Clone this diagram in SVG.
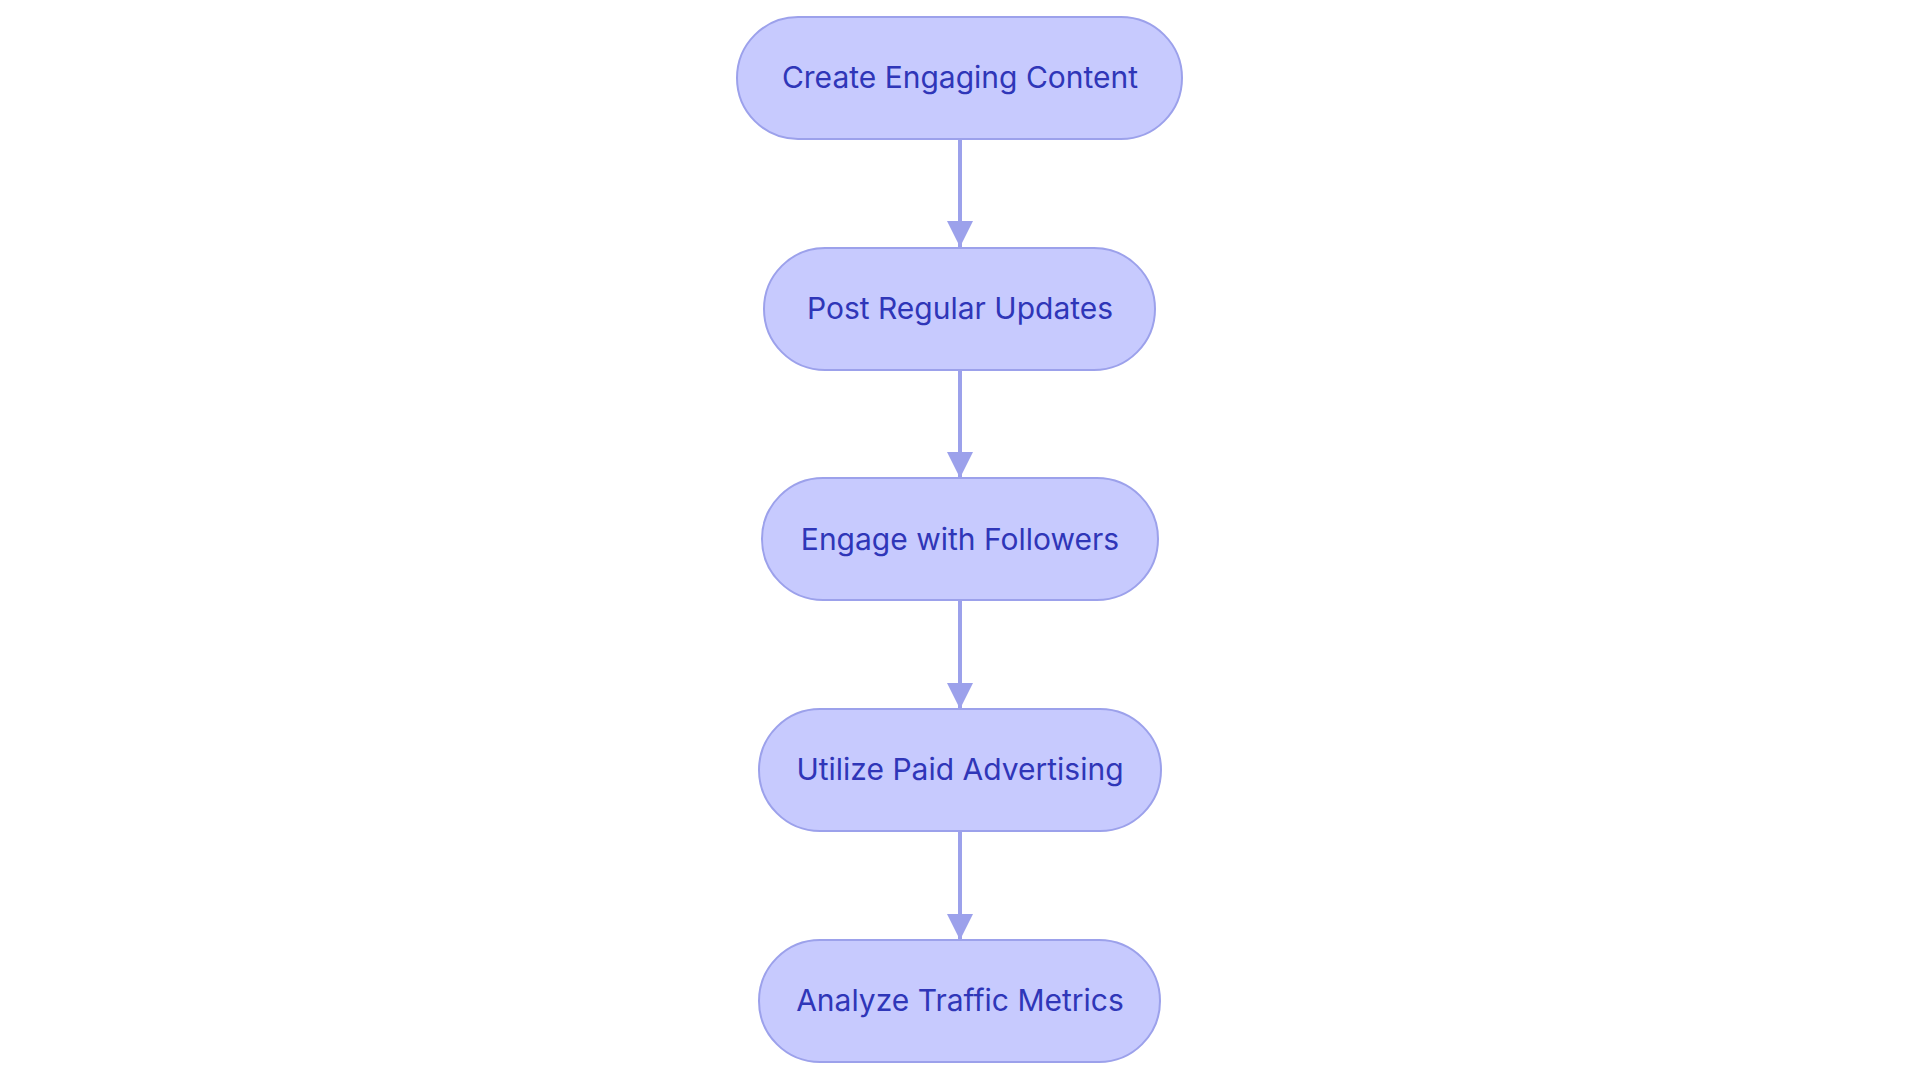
<svg xmlns="http://www.w3.org/2000/svg" width="1920" height="1083" viewBox="0 0 1920 1083">
<style>
.node rect{fill:#C7CAFE;stroke:#9CA1EB;stroke-width:2}
.node text{font-family:Inter,"Noto Sans",sans-serif;font-size:30px;fill:#2F36B8;text-anchor:middle}
.edge{stroke:#9CA1EB;stroke-width:4;fill:none}
</style>
<defs>
<marker id="arrow" markerUnits="userSpaceOnUse" viewBox="0 0 26 26" markerWidth="26" markerHeight="26" refX="26" refY="13" orient="auto">
<path d="M0,0 L26,13 L0,26 Z" fill="#9CA1EB"/>
</marker>
</defs>
<rect width="1920" height="1083" fill="#FFFFFF"/>
<g id="connectors">
<path class="edge" d="M960,139 L960,247" marker-end="url(#arrow)"/>
<path class="edge" d="M960,370 L960,478" marker-end="url(#arrow)"/>
<path class="edge" d="M960,600 L960,709" marker-end="url(#arrow)"/>
<path class="edge" d="M960,831 L960,940" marker-end="url(#arrow)"/>
</g>
<g id="node1" class="node">
<rect x="737" y="17" width="445" height="122" rx="61" ry="61"/>
<text x="960" y="88">Create Engaging Content</text>
</g>
<g id="node2" class="node">
<rect x="764" y="248" width="391" height="122" rx="61" ry="61"/>
<text x="960" y="319">Post Regular Updates</text>
</g>
<g id="node3" class="node">
<rect x="762" y="478" width="396" height="122" rx="61" ry="61"/>
<text x="960" y="550">Engage with Followers</text>
</g>
<g id="node4" class="node">
<rect x="759" y="709" width="402" height="122" rx="61" ry="61"/>
<text x="960" y="780">Utilize Paid Advertising</text>
</g>
<g id="node5" class="node">
<rect x="759" y="940" width="401" height="122" rx="61" ry="61"/>
<text x="960" y="1011">Analyze Traffic Metrics</text>
</g>
</svg>
